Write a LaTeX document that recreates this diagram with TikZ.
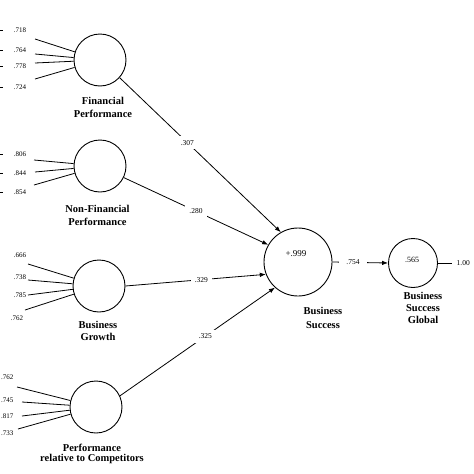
\documentclass[tikz,border=0pt]{standalone}
\usepackage{fontspec}
\setmainfont{Liberation Serif}
\usetikzlibrary{arrows.meta}
\begin{document}
\begin{tikzpicture}[x=1pt,y=-1pt,
  lv/.style={circle,draw,line width=0.9pt,inner sep=0pt},
  ttl/.style={font=\fontsize{10.5}{12.5}\selectfont\bfseries,align=center,inner sep=0pt},
  ld/.style={font=\fontsize{7}{8}\selectfont,inner sep=0.5pt},
  pth/.style={line width=0.8pt,-{Latex[length=6pt,width=4.5pt]}},
  ind/.style={line width=0.8pt},
  plbl/.style={font=\fontsize{7.5}{9}\selectfont,fill=white,inner sep=4pt}]
\useasboundingbox (0,0) rectangle (474,474);

% latent variables
\node[lv,minimum size=52pt] (F)   at (100,60)  {};
\node[lv,minimum size=52pt] (NF)  at (100,166) {};
\node[lv,minimum size=52pt] (G)   at (99,286)  {};
\node[lv,minimum size=52pt] (C)   at (96,407)  {};
\node[lv,minimum size=68pt] (BS)  at (298,262) {};
\node[lv,minimum size=49pt] (BSG) at (413,263) {};
\node[font=\fontsize{9}{10}\selectfont,inner sep=0pt] (r2bs) at (296,254) {+.999};
\node[font=\fontsize{8}{9}\selectfont,inner sep=0pt] (r2bsg) at (412,260) {.565};

% titles
\node[ttl] (tF)   at (103,107.5) {Financial\\Performance};
\node[ttl] (tNF)  at (97.5,215.5) {Non-Financial\\Performance};
\node[ttl] (tG)   at (98,331) {Business\\Growth};
\node[ttl,font=\fontsize{10.5}{10.5}\selectfont\bfseries] (tC) at (92,454) {Performance\\relative to Competitors};
\node[ttl,font=\fontsize{10.5}{14}\selectfont\bfseries] (tBS) at (323,318) {Business\\Success};
\node[ttl,font=\fontsize{10.5}{12}\selectfont\bfseries] (tBSG) at (423,308) {Business\\Success\\Global};

% indicators: Financial
\foreach \i/\sx/\sy/\lx/\ly/\v in {1/35/39/20/30/.718, 2/35/54/20/50/.764, 3/35/63/20/66/.778, 4/35/79/20/87/.724}{
  \coordinate (F-s\i) at (\sx,\sy);
  \draw[ind] (F-s\i) -- (F);
  \node[ld] (F-l\i) at (\lx,\ly) {\v};
  \coordinate (F-a\i) at (-4,\ly);
  \coordinate (F-b\i) at (3,\ly);
  \draw[ind] (F-a\i) -- (F-b\i);
}
% indicators: Non-Financial
\foreach \i/\sx/\sy/\lx/\ly/\v in {1/34/160/20/154/.806, 2/35/172/20/173/.844, 3/34/185/20/192/.854}{
  \coordinate (NF-s\i) at (\sx,\sy);
  \draw[ind] (NF-s\i) -- (NF);
  \node[ld] (NF-l\i) at (\lx,\ly) {\v};
  \coordinate (NF-a\i) at (-4,\ly);
  \coordinate (NF-b\i) at (3,\ly);
  \draw[ind] (NF-a\i) -- (NF-b\i);
}
% indicators: Growth
\foreach \i/\sx/\sy/\lx/\ly/\v in {1/28/264/20/255/.666, 2/28/280/20/277/.738, 3/28/295/20/295/.785, 4/25/310/17/318/.762}{
  \coordinate (G-s\i) at (\sx,\sy);
  \draw[ind] (G-s\i) -- (G);
  \node[ld] (G-l\i) at (\lx,\ly) {\v};
}
% indicators: Competitors
\foreach \i/\sx/\sy/\ly/\v in {1/17/387/377/.762, 2/22/402/400/.745, 3/22/416/416/.817, 4/18/429/433/.733}{
  \coordinate (C-s\i) at (\sx,\sy);
  \draw[ind] (C-s\i) -- (C);
  \node[ld,anchor=west] (C-l\i) at (0.5,\ly) {\v};
}

% structural paths
\draw[pth] (F.-42)  -- node[plbl,pos=0.42] (p1) {.307} (BS.120);
\draw[pth] (NF.-26) -- node[plbl,pos=0.5]  (p2) {.280} (BS.150);
\draw[pth] (G.0)    -- node[plbl,pos=0.54] (p3) {.329} (BS.201);
\draw[pth] (C.25)   -- node[plbl,pos=0.55] (p4) {.325} (BS.228);
\draw[pth] (BS.0)   -- node[plbl,pos=0.37,inner xsep=7pt] (p5) {.754} (BSG.180);

\coordinate (out) at (452,263);
\draw[ind] (BSG.0) -- (out);
\node[ld,font=\fontsize{7.5}{9}\selectfont,anchor=west] (outl) at (456,263) {1.00};
\end{tikzpicture}
\end{document}
